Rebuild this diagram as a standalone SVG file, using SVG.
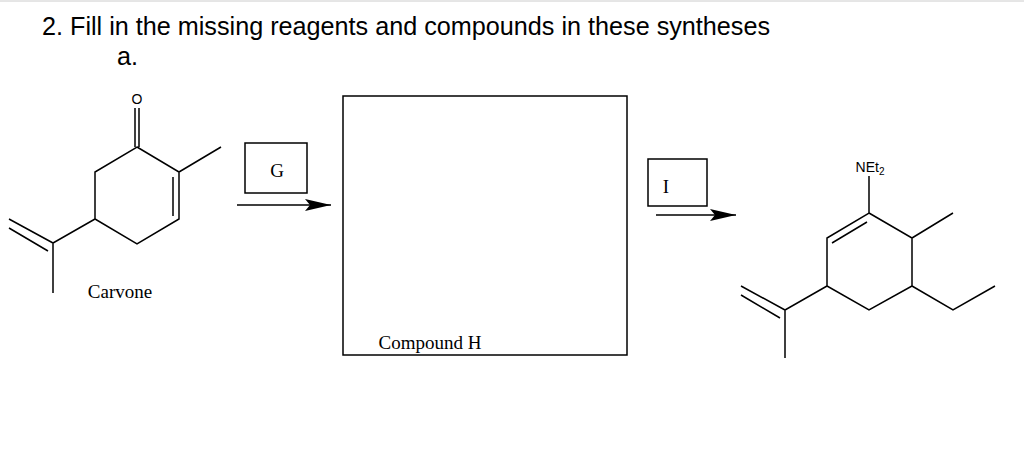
<svg xmlns="http://www.w3.org/2000/svg" width="1024" height="452" viewBox="0 0 1024 452">
<style>
.b{stroke:#000;stroke-width:1.5;fill:none}
.t{font-family:"Liberation Serif",serif;font-size:19px;fill:#000}
.s{font-family:"Liberation Sans",sans-serif;fill:#000}
</style>
<defs><marker id="ah" markerWidth="26" markerHeight="12" refX="26" refY="6" orient="auto" markerUnits="userSpaceOnUse"><path d="M0,0 L26,6 L0,12 L5,6 Z" fill="#000"/></marker></defs>
<rect width="1024" height="452" fill="#fff"/>
<line x1="0" y1="1" x2="1024" y2="1" stroke="#ccc"/>
<text class="s" x="42" y="35" font-size="25.2">2.  Fill in the missing reagents and compounds in these syntheses</text>
<text class="s" x="117" y="65" font-size="25.2">a.</text>
<g id="carvone">
<text class="s" x="137" y="104" font-size="14" text-anchor="middle">O</text>
<path class="b" d="M135,108V147M139,108V147M137,147L179,172L179,219L137,244L95,219L95,172Z M173,177V216 M179,172L221,147 M95,219L53,243L53,293 M9,219L53,243 M9,228L48,251"/>
<text class="t" x="120" y="298" text-anchor="middle">Carvone</text>
</g>
<g id="G"><rect class="b" x="245" y="143" width="62" height="50"/><text class="t" x="277" y="177" text-anchor="middle">G</text></g>
<g id="H"><rect class="b" x="343" y="96" width="284" height="259"/><text class="t" x="430" y="349" text-anchor="middle">Compound H</text></g>
<g id="I"><rect class="b" x="648" y="159" width="59" height="47"/><text class="t" x="666" y="193" text-anchor="middle">I</text></g>
<g id="product">
<text class="s" x="870" y="172" font-size="14" text-anchor="middle">NEt<tspan font-size="10" dy="3">2</tspan></text>
<path class="b" d="M869,176V213 M869,213L912,238L912,286L869,310L827,286L827,238Z M832,243L867,222 M912,238L953,213 M912,286L953,310L995,286 M827,286L785,310L785,358 M741,286L785,310 M741,295L780,318"/>
</g>
<g id="connectors">
<line class="b" x1="237" y1="205" x2="331" y2="205" marker-end="url(#ah)"/>
<line class="b" x1="656" y1="215" x2="736" y2="215" marker-end="url(#ah)"/>
</g>
</svg>
